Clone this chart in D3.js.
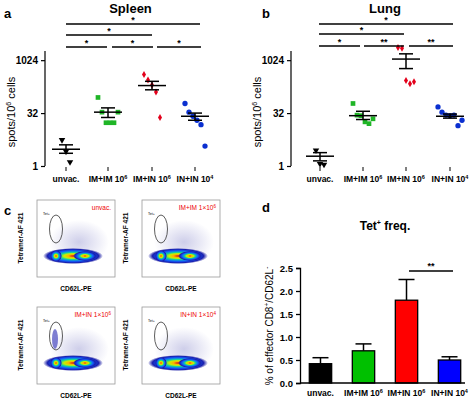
<!DOCTYPE html>
<html><head><meta charset="utf-8">
<script src="https://cdn.jsdelivr.net/npm/d3@7"></script>
<style>body{margin:0;background:#fff}svg{font-family:"Liberation Sans",Arial,sans-serif;font-weight:bold}</style>
</head><body><svg id="c" width="474" height="401"></svg>
<script>
const groups=["unvac.","IM+IM 10","IM+IN 10","IN+IN 10"];
const sups=["","6","6","4"];
const colors=["#000000","#1fb526","#e3001b","#0a2fd0"];
const shapes=[d3.symbolTriangle,d3.symbolSquare,d3.symbolDiamond,d3.symbolCircle];
// spleen (spots/10^6 cells)
const spleenPts=[[5.5,2.6,1.3],[89,34,17,17,17,34],[400,280,200,128,24],[60,34,26,20,15,3.7]];
const spleenMean=[3,34,194,26];
const spleenErr=[[2.3,4],[24,45],[147,256],[20,32]];
// lung
const lungPts=[[2.8,1.15,1.1],[60,28,27,18,16,22],[2350,2250,270,220,250],[48,34,28,27,28,14,20]];
const lungMean=[1.9,27,1100,26];
const lungErr=[[1.4,2.4],[21,36],[1550,590],[23,30]];
// Tet+ freq
const tetMean=[0.42,0.70,1.80,0.50];
const tetErr=[0.55,0.85,2.25,0.57];
const flowLabels=[["unvac.",""],["IM+IM 1×10","6"],["IM+IN 1×10","6"],["IN+IN 1×10","4"]];

const svg=d3.select("#c");
function label(g,txt,sup,x,y,size){
  const t=g.append("text").attr("x",x).attr("y",y).attr("text-anchor","middle").attr("font-size",size).text(txt);
  if(sup) t.append("tspan").attr("dy",-size*0.4).attr("font-size",size*0.65).text(sup);
}
function letter(t,x,y){svg.append("text").attr("x",x).attr("y",y).attr("font-size",13).text(t);}
letter("a",4,18);letter("b",262,18);letter("c",4,215);letter("d",262,212);

function scatterPanel(x0,xs,title,pts,mean,err,sig){
  const g=svg.append("g");
  const x=d3.scaleOrdinal().domain(groups).range(xs);
  const y=d3.scaleLog().base(2).domain([1,4096]).range([166,39]);
  g.append("line").attr("x1",x0).attr("x2",x0).attr("y1",51).attr("y2",166).attr("stroke","#000").attr("stroke-width",1.2);
  const ya=d3.axisLeft(y).tickValues([1,32,1024]).tickSize(4).tickFormat(d3.format("d"));
  g.append("g").attr("transform",`translate(${x0},0)`).call(ya).call(s=>{s.select(".domain").remove();s.selectAll("text").attr("font-size",10).attr("font-weight","bold").attr("font-family","Liberation Sans");s.selectAll("line").attr("stroke-width",1.2);});
  groups.forEach((c,i)=>{
    g.append("line").attr("x1",x(c)).attr("x2",x(c)).attr("y1",167).attr("y2",171).attr("stroke","#000");
    label(g,c,sups[i],x(c),182,8.5);
  });
  pts.forEach((arr,i)=>{
    const n=arr.length;
    arr.forEach((v,j)=>{
      const off=(j-(n-1)/2)*4;
      g.append("path").attr("d",d3.symbol().type(shapes[i]).size(i==2?14:i==0?18:22)())
       .attr("transform",`translate(${x(groups[i])+off},${y(v)})${i==0?" rotate(180)":""}`).attr("fill",colors[i]);
    });
    const cx=x(groups[i]);
    g.append("line").attr("x1",cx-14).attr("x2",cx+14).attr("y1",y(mean[i])).attr("y2",y(mean[i])).attr("stroke","#000").attr("stroke-width",1.5);
    g.append("line").attr("x1",cx).attr("x2",cx).attr("y1",y(err[i][0])).attr("y2",y(err[i][1])).attr("stroke","#000").attr("stroke-width",1.5);
    err[i].forEach(e=>g.append("line").attr("x1",cx-7).attr("x2",cx+7).attr("y1",y(e)).attr("y2",y(e)).attr("stroke","#000").attr("stroke-width",1.5));
  });
  g.append("text").attr("x",(xs[0]+xs[3])/2).attr("y",13).attr("text-anchor","middle").attr("font-size",13).text(title);
  sig.forEach(s=>{
    g.append("line").attr("x1",s[0]).attr("x2",s[1]).attr("y1",s[2]).attr("y2",s[2]).attr("stroke","#000").attr("stroke-width",1.5);
    g.append("text").attr("x",(s[0]+s[1])/2).attr("y",s[2]-1).attr("text-anchor","middle").attr("font-size",9).text(s[3]);
  });
  const yl=g.append("text").attr("transform",`translate(${x0-30},112) rotate(-90)`).attr("text-anchor","middle").attr("font-size",11).attr("font-weight","normal").text("spots/10");
  yl.append("tspan").attr("dy",-4).attr("font-size",7).text("6");
  yl.append("tspan").attr("dy",4).text(" cells");
}
scatterPanel(45,[66,108,152,195],"Spleen",spleenPts,spleenMean,spleenErr,
  [[66,200,24,"*"],[66,152,35,"*"],[66,107,47,"*"],[112,153,47,"*"],[157,201,47,"*"]]);
scatterPanel(291,[320,363,406,450],"Lung",lungPts,lungMean,lungErr,
  [[319,453,24,"*"],[319,404,34,"*"],[319,360,46,"*"],[364,404,46,"**"],[409,453,46,"**"]]);

// panel c flow plots
const defs=svg.append("defs");
const gr=defs.append("radialGradient").attr("id","dens");
[[0,"#d4001a"],[0.15,"#ffb000"],[0.3,"#c8f000"],[0.45,"#10d0a0"],[0.65,"#1060ff"],[0.85,"#1a20b0"],[1,"rgba(30,30,160,0)"]].forEach(s=>gr.append("stop").attr("offset",s[0]).attr("stop-color",s[1]));
const gr2=defs.append("radialGradient").attr("id","cloud");
[[0,"rgba(60,60,170,0.25)"],[1,"rgba(60,60,170,0)"]].forEach(s=>gr2.append("stop").attr("offset",s[0]).attr("stop-color",s[1]));
const boxes=[[37,200],[142,200],[37,307],[142,307]];
boxes.forEach((b,i)=>{
  const g=svg.append("g").attr("transform",`translate(${b[0]},${b[1]})`);
  g.append("rect").attr("width",78).attr("height",77).attr("fill","#fff").attr("stroke","#999").attr("stroke-width",0.8);
  g.append("ellipse").attr("cx",42).attr("cy",42).attr("rx",30).attr("ry",22).attr("fill","url(#cloud)");
  g.append("ellipse").attr("cx",36).attr("cy",56).attr("rx",30).attr("ry",8).attr("fill","url(#dens)");
  g.append("ellipse").attr("cx",48).attr("cy",56).attr("rx",12).attr("ry",5).attr("fill","url(#dens)");
  g.append("ellipse").attr("cx",19).attr("cy",56).attr("rx",6).attr("ry",6).attr("fill","url(#dens)");
  if(i==2) g.append("ellipse").attr("cx",18).attr("cy",32).attr("rx",3).attr("ry",10).attr("fill","rgba(40,40,180,0.6)");
  g.append("ellipse").attr("cx",19).attr("cy",29).attr("rx",6.5).attr("ry",14).attr("fill","none").attr("stroke","#333").attr("stroke-width",0.8);
  g.append("text").attr("x",6).attr("y",15).attr("font-size",3.5).attr("font-weight","normal").text("Tet+");
  const t=g.append("text").attr("x",74).attr("y",10).attr("text-anchor","end").attr("font-size",6.5).attr("font-weight","normal").attr("fill","#e00").text(flowLabels[i][0]);
  if(flowLabels[i][1]) t.append("tspan").attr("dy",-2).attr("font-size",4.5).text(flowLabels[i][1]);
  g.append("text").attr("x",39).attr("y",91).attr("text-anchor","middle").attr("font-size",6.5).text("CD62L-PE");
  g.append("text").attr("transform","translate(-14,38) rotate(-90)").attr("text-anchor","middle").attr("font-size",6.5).text("Tetramer-AF 421");
});

// panel d
const gd=svg.append("g");
const xb=d3.scaleBand().domain(groups).range([305,465]).paddingInner(0.48).paddingOuter(0.1);
const yb=d3.scaleLinear().domain([0,2.5]).range([383,268]);
const barFill=["#000","#00c000","#ff0000","#0000ff"];
groups.forEach((c,i)=>{
  const cx=xb(c)+xb.bandwidth()/2;
  gd.append("line").attr("x1",cx).attr("x2",cx).attr("y1",yb(tetMean[i])).attr("y2",yb(tetErr[i])).attr("stroke","#000").attr("stroke-width",1.5);
  gd.append("line").attr("x1",cx-8).attr("x2",cx+8).attr("y1",yb(tetErr[i])).attr("y2",yb(tetErr[i])).attr("stroke","#000").attr("stroke-width",1.5);
  gd.append("rect").attr("x",xb(c)).attr("width",xb.bandwidth()).attr("y",yb(tetMean[i])).attr("height",yb(0)-yb(tetMean[i])).attr("fill",barFill[i]).attr("stroke","#000").attr("stroke-width",1.3);
  label(gd,c,sups[i],cx,396,8.5);
});
gd.append("g").attr("transform","translate(300,0)").call(d3.axisLeft(yb).tickValues([0,0.5,1,1.5,2,2.5]).tickFormat(d3.format(".1f")).tickSize(4))
  .call(s=>{s.selectAll("text").attr("font-size",9.5).attr("font-weight","bold").attr("font-family","Liberation Sans");s.selectAll("path,line").attr("stroke-width",1.3);});
gd.append("line").attr("x1",300).attr("x2",465).attr("y1",383).attr("y2",383).attr("stroke","#000").attr("stroke-width",1.3);
gd.append("line").attr("x1",409).attr("x2",453).attr("y1",271).attr("y2",271).attr("stroke","#000").attr("stroke-width",1.5);
gd.append("text").attr("x",431).attr("y",269).attr("text-anchor","middle").attr("font-size",9).text("**");
const tt=gd.append("text").attr("x",385).attr("y",230).attr("text-anchor","middle").attr("font-size",12).text("Tet");
tt.append("tspan").attr("dy",-5).attr("font-size",7).text("+");
tt.append("tspan").attr("dy",5).text(" freq.");
const yl=gd.append("text").attr("transform","translate(273,326) rotate(-90)").attr("text-anchor","middle").attr("font-size",10).attr("font-weight","normal").text("% of effector CD8");
yl.append("tspan").attr("dy",-4).attr("font-size",6.5).text("+");
yl.append("tspan").attr("dy",4).text("/CD62L");
yl.append("tspan").attr("dy",-4).attr("font-size",6.5).text("-");
</script></body></html>
